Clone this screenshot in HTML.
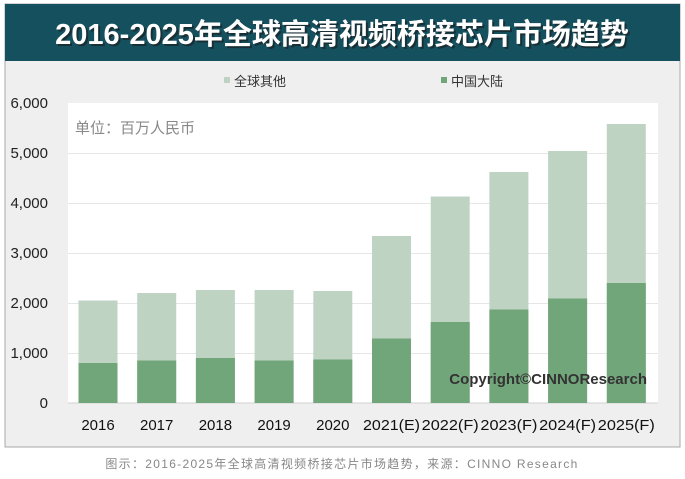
<!DOCTYPE html>
<html><head><meta charset="utf-8"><style>
body{margin:0;width:685px;height:479px;background:#fff;overflow:hidden;font-family:"Liberation Sans","Noto Sans CJK SC",sans-serif}
</style></head><body>
<svg width="685" height="479" xmlns="http://www.w3.org/2000/svg" style="position:absolute;left:0;top:0" font-family="Liberation Sans,Noto Sans CJK SC,sans-serif">
<rect x="5" y="4" width="675" height="443" fill="#efefef" stroke="#a9a9a9" stroke-width="1"/>
<rect x="5" y="4" width="675" height="57" fill="#15505e"/>
<text x="344" y="46" text-anchor="middle" font-size="29" font-weight="bold" fill="#1a1a1a" opacity="0.6">2016-2025年全球高清视频桥接芯片市场趋势</text>
<text x="342" y="44" text-anchor="middle" font-size="29" font-weight="bold" fill="#fff">2016-2025年全球高清视频桥接芯片市场趋势</text>
<rect x="68" y="103" width="590" height="300" fill="#fff"/>
<g stroke="#e6e6e6" stroke-width="1">
<line x1="68" x2="658" y1="153.5" y2="153.5"/><line x1="68" x2="658" y1="203.5" y2="203.5"/><line x1="68" x2="658" y1="253.5" y2="253.5"/><line x1="68" x2="658" y1="303.5" y2="303.5"/><line x1="68" x2="658" y1="353.5" y2="353.5"/>
</g>
<line x1="68" x2="658" y1="403" y2="403" stroke="#d0d0d0"/>
<g font-size="15" fill="#222" text-anchor="end">
<text x="48" y="108">6,000</text><text x="48" y="158">5,000</text><text x="48" y="208">4,000</text><text x="48" y="258">3,000</text><text x="48" y="308">2,000</text><text x="48" y="358">1,000</text><text x="48" y="408">0</text>
</g>
<text x="75" y="133" font-size="15" fill="#888">单位：百万人民币</text>
<rect x="224" y="77" width="6" height="6" fill="#bfd3c3"/><text x="234" y="86" font-size="13" fill="#333">全球其他</text>
<rect x="441" y="77" width="6" height="6" fill="#71a57a"/><text x="451" y="86" font-size="13" fill="#333">中国大陆</text>
<g fill="#bfd3c3">
<rect x="78.5" y="300.5" width="39" height="102.5"/>
<rect x="137.2" y="293" width="39" height="110"/>
<rect x="195.9" y="290" width="39" height="113"/>
<rect x="254.6" y="290" width="39" height="113"/>
<rect x="313.3" y="291" width="39" height="112"/>
<rect x="372" y="236" width="39" height="167"/>
<rect x="430.7" y="196.5" width="39" height="206.5"/>
<rect x="489.4" y="172" width="39" height="231"/>
<rect x="548.1" y="151" width="39" height="252"/>
<rect x="606.8" y="124" width="39" height="279"/>
</g>
<g fill="#71a57a">
<rect x="78.5" y="363" width="39" height="40"/>
<rect x="137.2" y="360.5" width="39" height="42.5"/>
<rect x="195.9" y="358" width="39" height="45"/>
<rect x="254.6" y="360.5" width="39" height="42.5"/>
<rect x="313.3" y="359.5" width="39" height="43.5"/>
<rect x="372" y="338.5" width="39" height="64.5"/>
<rect x="430.7" y="322" width="39" height="81"/>
<rect x="489.4" y="309.5" width="39" height="93.5"/>
<rect x="548.1" y="298.5" width="39" height="104.5"/>
<rect x="606.8" y="283" width="39" height="120"/>
</g>
<g font-size="15" fill="#111" text-anchor="middle">
<text x="98" y="430">2016</text><text x="156.7" y="430">2017</text><text x="215.4" y="430">2018</text><text x="274.1" y="430">2019</text><text x="332.8" y="430">2020</text>
<text x="391.5" y="430" textLength="57" lengthAdjust="spacingAndGlyphs">2021(E)</text><text x="450.2" y="430" textLength="57" lengthAdjust="spacingAndGlyphs">2022(F)</text><text x="508.9" y="430" textLength="57" lengthAdjust="spacingAndGlyphs">2023(F)</text><text x="567.6" y="430" textLength="57" lengthAdjust="spacingAndGlyphs">2024(F)</text><text x="626.3" y="430" textLength="57" lengthAdjust="spacingAndGlyphs">2025(F)</text>
</g>
<text x="647" y="384" text-anchor="end" font-size="15" font-weight="bold" fill="#333">Copyright©CINNOResearch</text>
<text x="342" y="468" text-anchor="middle" font-size="12" fill="#888" letter-spacing="1.3">图示：2016-2025年全球高清视频桥接芯片市场趋势，来源：CINNO Research</text>
</svg>
</body></html>
